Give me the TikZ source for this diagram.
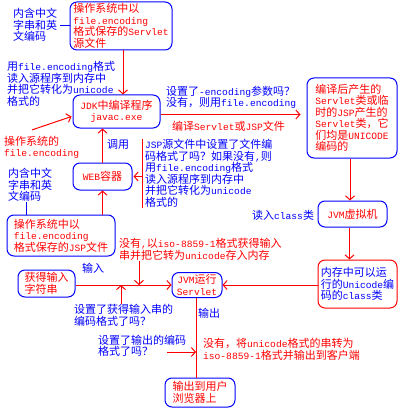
\documentclass[tikz,border=0pt]{standalone}
\usepackage{fontspec}
\setmainfont{Noto Sans CJK SC}
\newfontfamily\monofam{Liberation Mono}
\newcommand\ascii[1]{{\monofam\fontsize{9.6}{11.5}\selectfont #1}}
\usepackage{tikz}
\usetikzlibrary{arrows.meta, calc, positioning}

\tikzset{
  box/.style={draw=blue, line width=1pt, rounded corners=7pt, text=red, align=left, inner sep=1pt},
  note/.style={inner sep=0pt, anchor=west, align=left, text=blue},
  rnote/.style={note, text=red},
  arr/.style={red, line width=1pt, -{Straight Barb[length=4pt,width=9pt]}},
  link/.style={blue, line width=1pt},
}

\begin{document}
\begin{tikzpicture}[x=1pt, y=-1pt, font=\fontsize{11}{11.5}\selectfont]
            \useasboundingbox (0,0) rectangle (400,409);
            % boxes
            \node[box, minimum width=102pt, minimum height=48pt] (srv) at (121,26) {操作系统中以\\\ascii{file.encoding}\\格式保存的\ascii{Servlet}\\源文件};
            \node[box, align=center, minimum width=87pt, minimum height=33pt] (jdk) at (116.5,111.5) {\ascii{JDK}中编译程序\\\ascii{javac.exe}};
            \node[box, minimum width=90pt, minimum height=80pt] (cls) at (352,118) {编译后产生的\\\ascii{Servlet}类或临\\时的\ascii{JSP}产生的\\\ascii{Servlet}类，它\\们均是\ascii{UNICODE}\\编码的};
            \node[box, minimum width=69pt, minimum height=26pt] (jvm) at (352.5,214) {\ascii{JVM}虚拟机};
            \node[box, draw=red, text=blue, minimum width=79pt, minimum height=48pt] (mem) at (357.5,284) {内存中可以运\\行的\ascii{Unicode}编\\码的\ascii{class}类};
            \node[box, align=center, minimum width=50pt, minimum height=25pt] (run) at (197,285) {\ascii{JVM}运行\\\ascii{Servlet}};
            \node[box, minimum width=57pt, minimum height=27pt] (inp) at (46.5,283.5) {获得输入\\字符串};
            \node[box, minimum width=70pt, minimum height=29pt] (out) at (200,392.5) {输出到用户\\浏览器上};
            \node[box, minimum width=59pt, minimum height=27pt] (web) at (102.5,176.5) {\ascii{WEB}容器};
            \node[box, minimum width=108pt, minimum height=41pt] (jsp) at (61,235.5) {操作系统中以\\\ascii{file.encoding}\\格式保存的\ascii{JSP}文件};
            % texts
            \node[note] (cn1) at (13,25) {内含中文\\字串和英\\文编码};
            \node[note] (usefe) at (7,84) {用\ascii{file.encoding}格式\\读入源程序到内存中\\并把它转化为\ascii{unicode}\\格式的};
            \node[note] (encq) at (166,97.5) {设置了\ascii{-encoding}参数吗？\\没有，则用\ascii{file.encoding}};
            \node[rnote] (comp) at (172,126) {编译\ascii{Servlet}或\ascii{JSP}文件};
            \node[rnote] (osfe) at (4,147.5) {操作系统的\\\ascii{file.encoding}};
            \node[note] (call) at (107,144) {调用};
            \node[note] (jspq) at (145,173.5) {\ascii{JSP}源文件中设置了文件编\\码格式了吗？如果没有\ascii{,}则\\用\ascii{file.encoding}格式\\读入源程序到内存中\\并把它转化为\ascii{unicode}\\格式的};
            \node[note] (cn2) at (8,185) {内含中文\\字串和英\\文编码};
            \node[note] (rdcls) at (252,215) {读入\ascii{class}类};
            \node[rnote] (isoin) at (119,249.5) {没有\ascii{,}以\ascii{iso-8859-1}格式获得输入\\串并把它转为\ascii{unicode}存入内存};
            \node[note] (inword) at (82,268) {输入};
            \node[note] (inq) at (74,315.5) {设置了获得输入串的\\编码格式了吗？};
            \node[note] (outword) at (198,313) {输出};
            \node[note] (outq) at (98,346) {设置了输出的编码\\格式了吗？};
            \node[rnote] (isoout) at (203,349.5) {没有，将\ascii{unicode}格式的串转为\\\ascii{iso-8859-1}格式并输出到客户端};
            % connectors
            \draw[link] ([xshift=3pt]cn1.east |- srv.west) -- (srv.west);
            \draw[link] ([xshift=18pt]cn2.south west) -- ([xshift=18pt]cn2.south west |- jsp.north);
            \draw[arr] ([xshift=2pt]srv.south) -- ([xshift=2pt]srv.south |- jdk.north);
            \draw[arr] ([xshift=28pt,yshift=6pt]osfe.north west) -- ([xshift=-1pt,yshift=-5pt]jdk.west);
            \draw[arr] (web.north) -- (web.north |- jdk.south);
            \draw[arr] (web.south |- jsp.north) -- (web.south);
            \draw[arr, shorten >=6pt] ([yshift=-3pt]jdk.east) -- ([yshift=-3pt]jdk.east -| cls.west);
            \draw[arr] ([xshift=-2pt]cls.south) -- ([xshift=-2pt]cls.south |- jvm.north);
            \draw[arr] ([xshift=-3pt]jvm.south) -- ([xshift=-3pt]jvm.south |- mem.north);
            \draw[arr] (mem.west |- run.east) -- (run.east);
            \draw[arr] (run.west -| inp.east) -- (run.west);
            % bar beside the JSP question
            \coordinate (bar) at ([xshift=-3pt]jspq.west);
            \draw[red, line width=1pt] (bar |- jspq.north) -- (bar |- jspq.south);
            \draw[arr, shorten >=1pt] (bar |- web.east) -- (web.east);
            % input line
            \coordinate (jn1) at (139,285);
            \coordinate (jn2) at (121,285);
            \draw[arr] (isoin.south -| jn1) -- (jn1);
            \draw[arr] (inq.north -| jn2) -- (jn2);
            % output line
            \draw[red, line width=1pt] ([xshift=-1pt]run.south) -- ([xshift=-1pt]run.south |- out.north);
            \coordinate (oqs) at (167,352);
            \coordinate (jn3) at ([xshift=-1pt]run.south |- oqs);
            \draw[arr] (oqs) -- (jn3);
        \end{tikzpicture}
\end{document}
